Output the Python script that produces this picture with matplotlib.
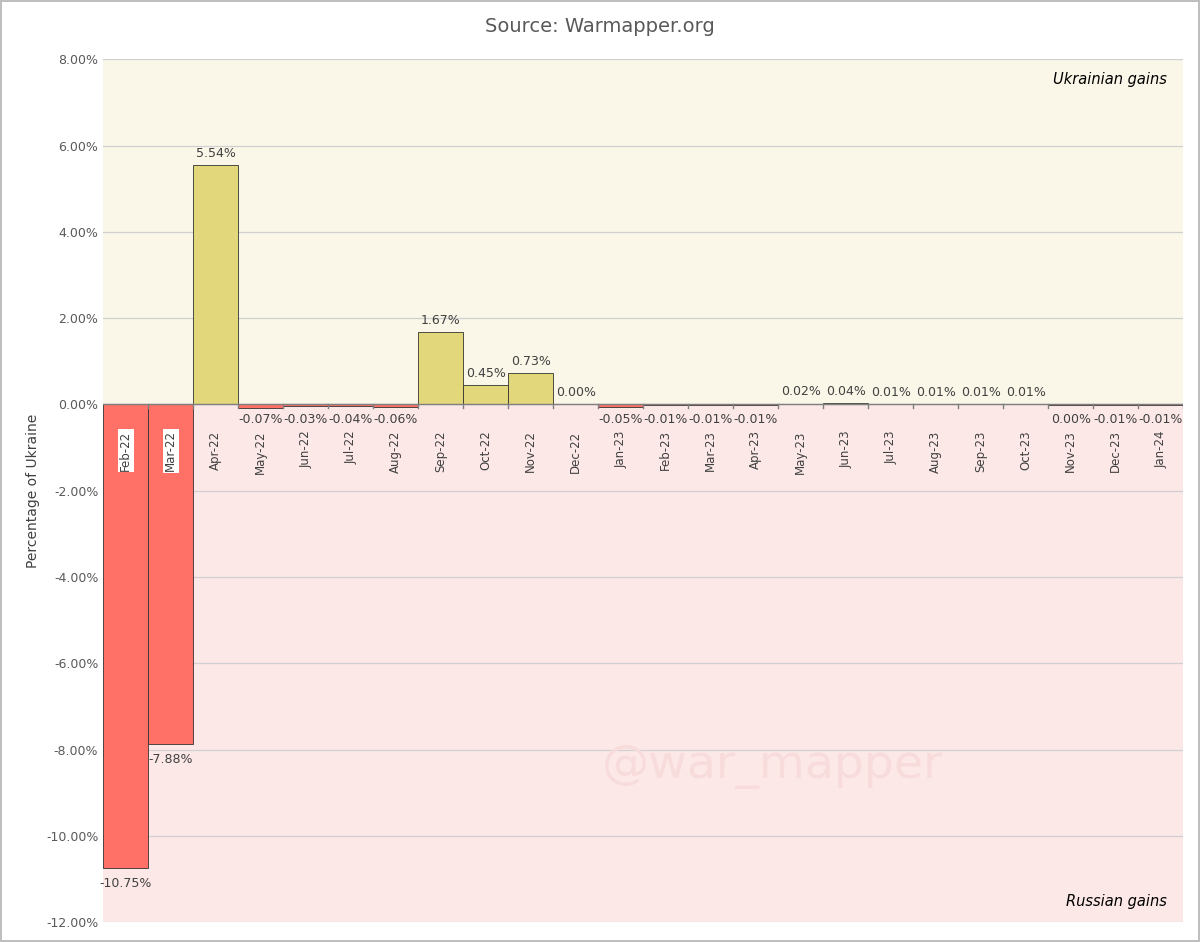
import matplotlib.pyplot as plt
import numpy as np

months = ["Feb-22", "Mar-22", "Apr-22", "May-22", "Jun-22", "Jul-22", "Aug-22", "Sep-22",
          "Oct-22", "Nov-22", "Dec-22", "Jan-23", "Feb-23", "Mar-23", "Apr-23", "May-23",
          "Jun-23", "Jul-23", "Aug-23", "Sep-23", "Oct-23", "Nov-23", "Dec-23", "Jan-24"]
change = [-10.75, -7.88, 5.54, -0.07, -0.03, -0.04, -0.06, 1.67, 0.45, 0.73, 0.004, -0.05,
          -0.01, -0.01, -0.01, 0.02, 0.04, 0.01, 0.01, 0.01, 0.01, -0.004, -0.01, -0.01]
y_ticks = [8, 6, 4, 2, 0, -2, -4, -6, -8, -10, -12]

fig = plt.figure(figsize=(12, 9.42), dpi=100)
fig.patch.set_edgecolor("#bfbfbf")
fig.patch.set_linewidth(1.5)
ax = fig.add_axes([0.086, 0.021, 0.9, 0.916])

n = len(months)
x = np.arange(n)
ax.set_xlim(-0.5, n - 0.5)
ax.set_ylim(-12, 8)
ax.axhspan(0, 8, color="#faf7e8", zorder=0)
ax.axhspan(-12, 0, color="#fde8e8", zorder=0)
for t in y_ticks:
    ax.axhline(t, color="#d0d0d0", lw=0.9, zorder=1)

colors = ["#e2d77a" if v >= 0 else "#ff7066" for v in change]
ax.bar(x, change, width=1.0, color=colors, edgecolor="#333333", linewidth=0.6, zorder=2)
ax.axhline(0, color="#7f7f7f", lw=1, zorder=3)
for i in x:
    ax.plot([i + 0.5, i + 0.5], [0, -0.08], color="#7f7f7f", lw=1, zorder=3)

for i, v in enumerate(change):
    lab = f"{abs(v):.2f}%" if abs(v) < 0.005 else f"{v:.2f}%"
    if v > 0:
        ax.text(i, v + 0.12, lab, ha="center", va="bottom", fontsize=9, color="#404040", zorder=4)
    else:
        ax.text(i, min(v, -0.2) - 0.2 if v < -1 else -0.2, lab, ha="center", va="top",
                fontsize=9, color="#404040", zorder=4)
    ax.text(i, -0.6, months[i], rotation=90, ha="center", va="top", fontsize=8.5, color="#404040", zorder=5,
            bbox=dict(facecolor="white", edgecolor="none", pad=1) if v < -1 else None)

ax.set_yticks(y_ticks)
ax.set_yticklabels([f"{t:.2f}%" for t in y_ticks], fontsize=9, color="#595959")
ax.set_xticks([])
ax.tick_params(axis="y", length=0)
for s in ax.spines.values():
    s.set_visible(False)
ax.set_ylabel("Percentage of Ukraine", fontsize=10, color="#404040")

ax.text(0.985, 0.985, "Ukrainian gains", transform=ax.transAxes, ha="right", va="top",
        fontsize=10.5, style="italic", color="black")
ax.text(0.985, 0.015, "Russian gains", transform=ax.transAxes, ha="right", va="bottom",
        fontsize=10.5, style="italic", color="black")
ax.text(0.62, 0.18, "@war_mapper", transform=ax.transAxes, ha="center", va="center",
        fontsize=34, color="#f8dcdc", zorder=1)
fig.text(0.5, 0.972, "Source: Warmapper.org", ha="center", va="center", fontsize=14, color="#595959")

fig.savefig("out.png", dpi=100, edgecolor=fig.get_edgecolor())
